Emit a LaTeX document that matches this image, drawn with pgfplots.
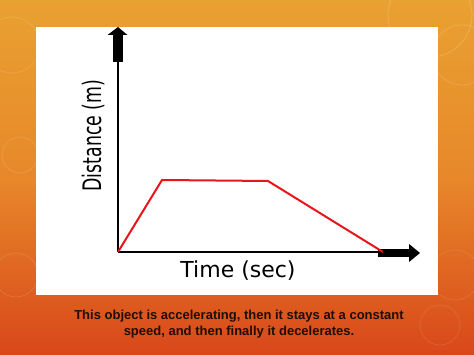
\documentclass[border=0pt]{standalone}
\usepackage{fontspec}
\setmainfont{DejaVu Sans}
\newfontfamily\capfont{Liberation Sans}
\usepackage{pgfplots}
\pgfplotsset{compat=1.18}
\definecolor{bgtop}{HTML}{E9A131}
\definecolor{bgmid}{HTML}{E7882A}
\definecolor{bgbot}{HTML}{D9471A}
\definecolor{redline}{HTML}{E8151B}
\definecolor{captext}{HTML}{1E0E06}
\begin{document}
\begin{tikzpicture}[x=1pt,y=1pt]
\useasboundingbox (0,0) rectangle (474,355);
\shade[top color=bgtop, bottom color=bgbot, middle color=bgmid] (0,0) rectangle (474,355);
\begin{scope}
\clip (0,0) rectangle (474,355);
\draw[white, opacity=0.18, line width=0.8pt] (430,340) circle (42);
\draw[white, opacity=0.15, line width=0.8pt] (462,300) circle (30);
\draw[white, opacity=0.12, line width=0.8pt] (12,310) circle (28);
\draw[white, opacity=0.12, line width=0.8pt] (20,200) circle (18);
\draw[white, opacity=0.12, line width=0.8pt] (16,80) circle (22);
\draw[white, opacity=0.10, line width=0.8pt] (455,80) circle (25);
\draw[white, opacity=0.10, line width=0.8pt] (440,30) circle (20);
\end{scope}
\fill[white] (36,60) rectangle (438,328);
\begin{axis}[
  scale only axis, width=302pt, height=225pt,
  at={(118pt,103pt)}, anchor=south west,
  xmin=0, xmax=302, ymin=0, ymax=225,
  axis line style={draw=none}, xtick=\empty, ytick=\empty,
  clip=false,
  xlabel={Time (sec)},
  xlabel style={at={(axis cs:120,-26)}, anchor=base, font=\fontsize{22}{26}\selectfont, inner sep=0pt},
  ylabel={\scalebox{0.68}[1]{Distance (m)}},
  ylabel style={at={(axis cs:-16,116.5)}, anchor=base, rotate=0, font=\fontsize{25.5}{30}\selectfont, inner sep=0pt},
]
% y axis arrow
\draw[black, line width=2pt] (axis cs:0,0) -- (axis cs:0,192);
\fill[black] (axis cs:-5.5,190) rectangle (axis cs:4.5,217);
\fill[black] (axis cs:-10.5,217) -- (axis cs:0,225) -- (axis cs:9.5,217) -- cycle;
% x axis arrow
\draw[black, line width=2pt] (axis cs:0,0) -- (axis cs:262,0);
\fill[black] (axis cs:260,-5) rectangle (axis cs:291,3);
\fill[black] (axis cs:291,-10) -- (axis cs:302,-1) -- (axis cs:291,8) -- cycle;
\addplot[redline, line width=2pt, line join=miter] coordinates {(0,0) (44,72) (150,71) (265,0)};
\end{axis}
\node[anchor=base, text=captext, font=\capfont\bfseries\fontsize{13}{16}\selectfont, inner sep=0pt] at (239,35.5) {This object is accelerating, then it stays at a constant};
\node[anchor=base, text=captext, font=\capfont\bfseries\fontsize{13}{16}\selectfont, inner sep=0pt] at (239,19) {speed, and then finally it decelerates.};
\end{tikzpicture}
\end{document}
